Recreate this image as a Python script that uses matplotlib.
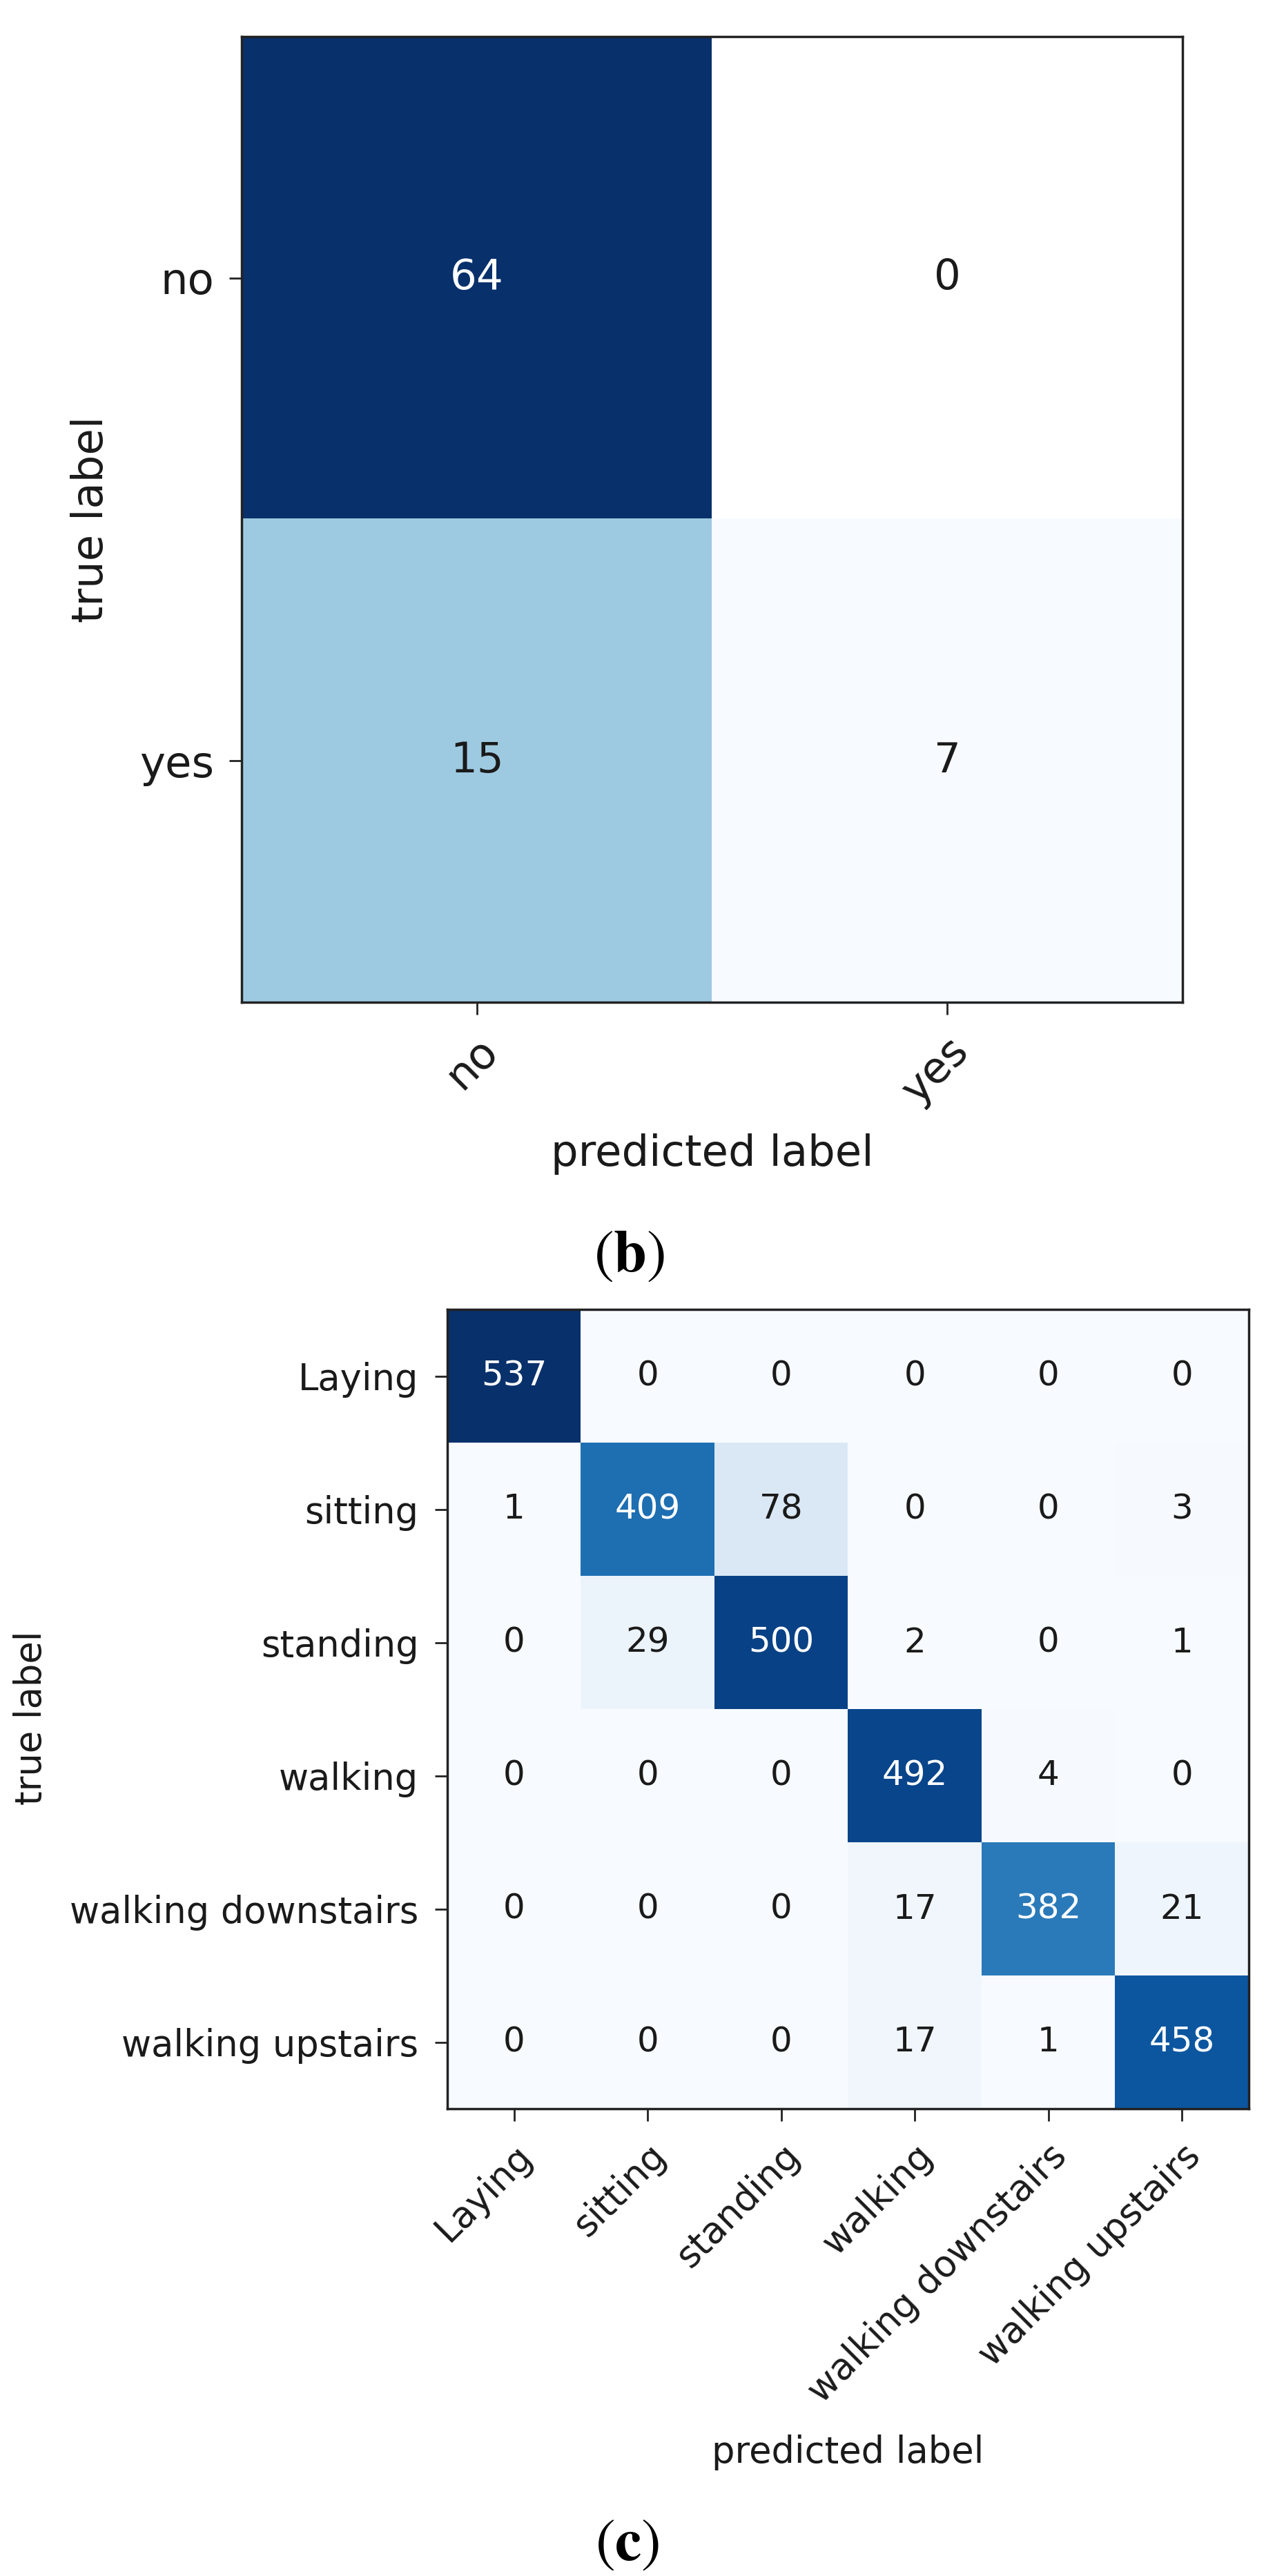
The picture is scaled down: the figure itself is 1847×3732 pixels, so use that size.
import numpy as np
import matplotlib
matplotlib.use("Agg")
import matplotlib.pyplot as plt
from matplotlib import colors as mcolors

# ---------------- data ----------------
binary_labels = ["no", "yes"]
binary_cm = [[64, 0],
             [15, 7]]

activity_labels = ["Laying", "sitting", "standing", "walking",
                   "walking downstairs", "walking upstairs"]
activity_cm = [[537, 0, 0, 0, 0, 0],
               [1, 409, 78, 0, 0, 3],
               [0, 29, 500, 2, 0, 1],
               [0, 0, 0, 492, 4, 0],
               [0, 0, 0, 17, 382, 21],
               [0, 0, 0, 17, 1, 458]]

panel_labels = ["b", "c"]
x_title = "predicted label"
y_title = "true label"

# ---------------- figure ----------------
W, H, DPI = 1847, 3732, 100
fig = plt.figure(figsize=(W / DPI, H / DPI), dpi=DPI)
plt.rcParams['font.family'] = ['DejaVu Sans']
plt.rcParams['mathtext.fontset'] = 'stix'

TXT = '#1a1a1a'


def px_axes(left, top, right, bottom):
    return fig.add_axes([left / W, (H - bottom) / H, (right - left) / W, (bottom - top) / H])


def draw_cm(ax, cm, labels, cmap, norm, fs_tick, fs_num, fs_lab,
            xlab_y, ylab_x, ylab_y, pad):
    cm = np.asarray(cm)
    ax.imshow(cm, cmap=cmap, norm=norm, aspect='auto', interpolation='nearest')
    thresh = cm.max() / 2.0
    for i in range(cm.shape[0]):
        for j in range(cm.shape[1]):
            ax.text(j, i, str(cm[i, j]), ha='center', va='center',
                    fontsize=fs_num,
                    color='white' if cm[i, j] > thresh else TXT)
    n = len(labels)
    ax.set_xticks(range(n))
    ax.set_yticks(range(n))
    ax.set_xticklabels(labels, fontsize=fs_tick, color=TXT)
    ax.set_yticklabels(labels, fontsize=fs_tick, color=TXT)
    plt.setp(ax.get_xticklabels(), rotation=45, ha='right', rotation_mode='anchor')
    ax.tick_params(length=13, width=2, pad=pad, color='#222222')
    for s in ax.spines.values():
        s.set_linewidth(2.5)
        s.set_color('#222222')
    ax.set_xlabel(x_title, fontsize=fs_lab, color=TXT)
    ax.set_ylabel(y_title, fontsize=fs_lab, color=TXT)
    ax.xaxis.label.set_va('center')
    ax.yaxis.label.set_va('center')
    ax.xaxis.set_label_coords(0.5, xlab_y)
    ax.yaxis.set_label_coords(ylab_x, ylab_y)


# top chart (b)
blues_top = plt.get_cmap('Blues').copy()
blues_top.set_under('white')
norm_top = mcolors.PowerNorm(gamma=0.5, vmin=7, vmax=64)
ax1 = px_axes(350, 53, 1713, 1452)
draw_cm(ax1, binary_cm, binary_labels, blues_top, norm_top,
        fs_tick=45, fs_num=44, fs_lab=45,
        xlab_y=(1452 - 1672) / 1399, ylab_x=(132 - 350) / 1363, ylab_y=0.5, pad=16)

# bottom chart (c)
ax2 = px_axes(648, 1897, 1809, 3055)
draw_cm(ax2, activity_cm, activity_labels, plt.get_cmap('Blues'),
        mcolors.Normalize(vmin=0, vmax=np.max(activity_cm)),
        fs_tick=38, fs_num=36, fs_lab=38,
        xlab_y=(3055 - 3553) / 1158, ylab_x=(45 - 648) / 1161,
        ylab_y=(3055 - 2489) / 1158, pad=17)

# panel labels
fig.text(912 / W, 1 - 1818 / H, r'$(\mathbf{%s})$' % panel_labels[0],
         ha='center', va='center', fontsize=62, color='black')
fig.text(909 / W, 1 - 3685 / H, r'$(\mathbf{%s})$' % panel_labels[1],
         ha='center', va='center', fontsize=62, color='black')

fig.savefig('out.png', dpi=DPI, facecolor='white')
